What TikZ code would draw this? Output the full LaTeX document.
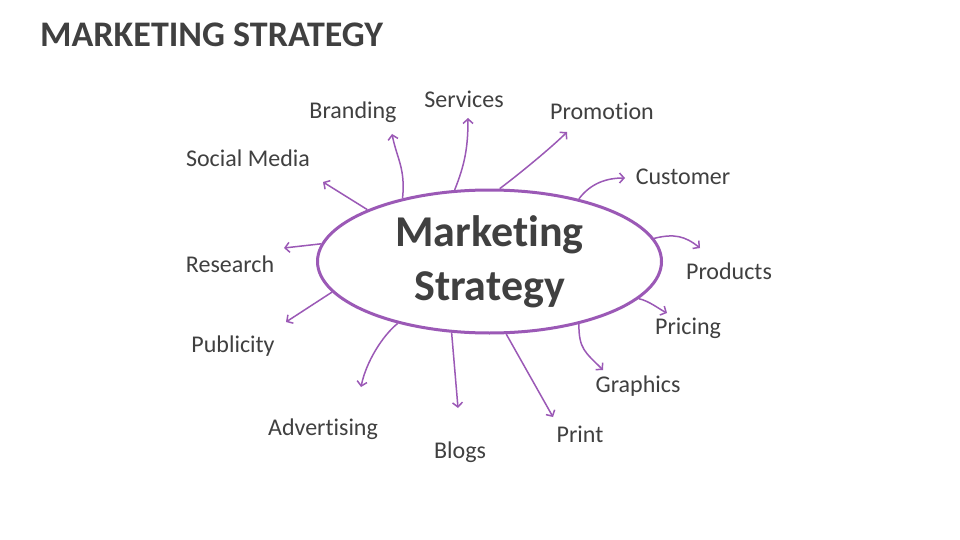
\documentclass[tikz,border=0pt]{standalone}
\usepackage{fontspec}
\setmainfont[Ligatures=NoCommon]{Carlito}
\usetikzlibrary{shapes.geometric,arrows.meta}
\definecolor{stratpurple}{RGB}{155,89,182}
\definecolor{txtgray}{RGB}{64,64,64}
\begin{document}
\begin{tikzpicture}[x=1pt, y=-1pt,
  lbl/.style={text=txtgray, font=\fontsize{24}{28}\selectfont, inner sep=0pt},
  spoke/.style={draw=stratpurple, line width=1.5pt, -{Straight Barb[length=4.5pt,width=10pt]}}]
\useasboundingbox[fill=white] (0,0) rectangle (960,540);
\node[anchor=west, text=txtgray, font=\fontsize{36}{40}\selectfont\bfseries, inner sep=0pt] (title) at (40,35) {MARKETING STRATEGY};
\node[shape=ellipse, draw=stratpurple, line width=3pt, minimum width=344pt, minimum height=143pt, inner sep=0pt, align=center, text=txtgray, font=\fontsize{44}{54}\selectfont\bfseries] (hub) at (489.5,261.5) {Marketing\\Strategy};
% labels round the ellipse
\node[lbl] (branding) at (353,112) {Branding};
\node[lbl] (services) at (464,99) {Services};
\node[lbl] (promotion) at (602,111) {Promotion};
\node[lbl] (social) at (248,158) {Social Media};
\node[lbl] (customer) at (683,177) {Customer};
\node[lbl] (research) at (230,264) {Research};
\node[lbl] (products) at (729,271) {Products};
\node[lbl] (publicity) at (233,346) {Publicity};
\node[lbl] (pricing) at (688,328) {Pricing};
\node[lbl] (graphics) at (638,386) {Graphics};
\node[lbl] (advertising) at (323,429) {Advertising};
\node[lbl] (blogs) at (460,452) {Blogs};
\node[lbl] (print) at (580,434) {Print};
% arrow tips
\coordinate (tBranding) at (392,134);
\coordinate (tServices) at (468,118);
\coordinate (tPromotion) at (567,132);
\coordinate (tSocial) at (323,182);
\coordinate (tCustomer) at (625,178);
\coordinate (tResearch) at (284,248);
\coordinate (tProducts) at (700,248);
\coordinate (tPublicity) at (286,322);
\coordinate (tPricing) at (667,313);
\coordinate (tGraphics) at (603,370);
\coordinate (tAdvertising) at (361,387);
\coordinate (tBlogs) at (458,408);
\coordinate (tPrint) at (553,417);
% spokes
\draw[spoke] (hub.144.8) .. controls +(3,-30) and +(5,25) .. (tBranding);
\draw[spoke] (hub.116.4) .. controls +(10,-25) and +(0,30) .. (tServices);
\draw[spoke] (hub.82.7) .. controls +(20,-15) and +(-15,15) .. (tPromotion);
\draw[spoke] (hub.35.1) .. controls +(12,-16) and +(-18,0) .. (tCustomer);
\draw[spoke] (hub.157.1) -- (tSocial);
\draw[spoke] (hub.174.4) -- (tResearch);
\draw[spoke] (hub.8.4) .. controls +(20,-5) and +(-15,-12) .. (tProducts);
\draw[spoke] (hub.-169) -- (tPublicity);
\draw[spoke] (hub.-14.6) .. controls +(10,2) and +(-8,-4) .. (tPricing);
\draw[spoke] (hub.-35.1) .. controls +(0,25) and +(-18,-18) .. (tGraphics);
\draw[spoke] (hub.-146.4) .. controls +(-15,12) and +(5,-25) .. (tAdvertising);
\draw[spoke] (hub.-118) -- (tBlogs);
\draw[spoke] (hub.-77.8) -- (tPrint);
\end{tikzpicture}
\end{document}
